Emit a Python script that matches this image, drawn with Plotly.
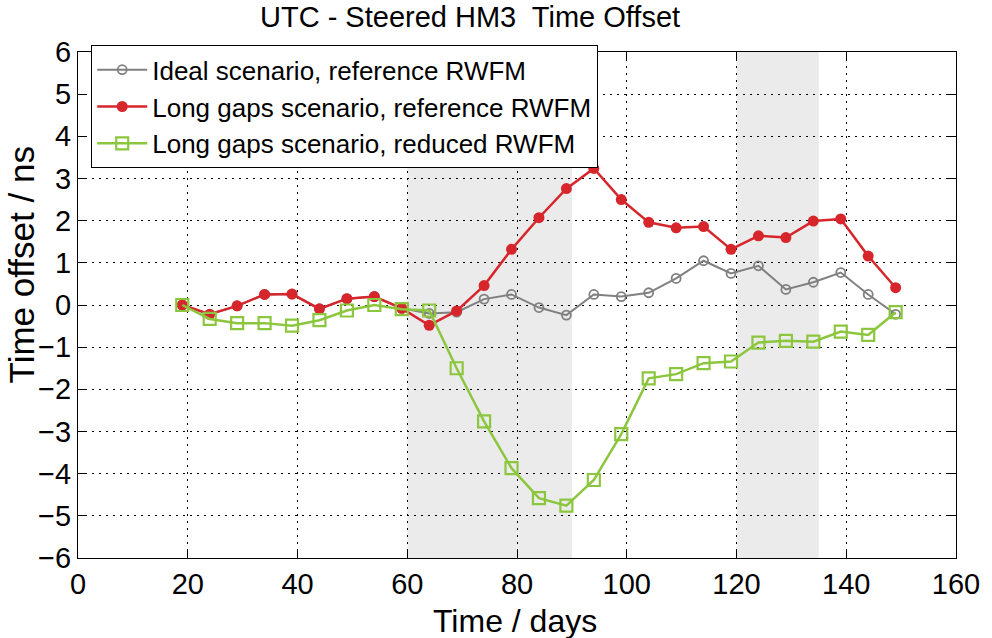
import plotly.graph_objects as go

# ---- data ----
days = [19, 24, 29, 34, 39, 44, 49, 54, 59, 64, 69, 74, 79, 84, 89, 94, 99,
        104, 109, 114, 119, 124, 129, 134, 139, 144, 149]
ideal_ref = [0.0, -0.22, -0.02, 0.25, 0.26, -0.09, 0.15, 0.2, -0.08, -0.2, -0.17,
             0.14, 0.25, -0.06, -0.24, 0.25, 0.2, 0.29, 0.63, 1.05, 0.75, 0.93,
             0.37, 0.54, 0.77, 0.25, -0.22]
gaps_ref = [0.0, -0.22, -0.02, 0.25, 0.26, -0.09, 0.15, 0.2, -0.08, -0.48, -0.14,
            0.46, 1.32, 2.07, 2.76, 3.24, 2.5, 1.96, 1.83, 1.86, 1.32, 1.64,
            1.6, 1.99, 2.04, 1.16, 0.41]
gaps_red = [0.0, -0.33, -0.43, -0.43, -0.49, -0.36, -0.13, 0.0, -0.1, -0.13, -1.5,
            -2.76, -3.87, -4.58, -4.76, -4.15, -3.06, -1.74, -1.64, -1.38, -1.34,
            -0.89, -0.85, -0.87, -0.63, -0.71, -0.17]
gap_periods = [(60, 90), (120, 135)]
x_ticks = [0, 20, 40, 60, 80, 100, 120, 140, 160]
y_ticks = [-6, -5, -4, -3, -2, -1, 0, 1, 2, 3, 4, 5, 6]

W, H = 992, 638
L, R, T, B = 78, 962, 52, 558
FONT = "Liberation Sans, Arial, sans-serif"


def px(xp):
    return (xp - L) / (R - L)


def py(yp):
    return (B - yp) / (B - T)


fig = go.Figure()
fig.add_trace(go.Scatter(
    x=days, y=ideal_ref, mode="lines+markers",
    name="Ideal scenario, reference RWFM",
    line=dict(color="#808080", width=2),
    marker=dict(symbol="circle-open", size=9, color="#808080",
                line=dict(width=1.8, color="#808080"))))
fig.add_trace(go.Scatter(
    x=days, y=gaps_ref, mode="lines+markers",
    name="Long gaps scenario, reference RWFM",
    line=dict(color="#d7262b", width=2.5),
    marker=dict(symbol="circle", size=11, color="#d7262b")))
fig.add_trace(go.Scatter(
    x=days, y=gaps_red, mode="lines+markers",
    name="Long gaps scenario, reduced RWFM",
    line=dict(color="#8cc63f", width=2.5),
    marker=dict(symbol="square-open", size=12, color="#8cc63f",
                line=dict(width=2.2, color="#8cc63f"))))

for a, b in gap_periods:
    fig.add_shape(type="rect", xref="x", yref="paper", x0=a, x1=b, y0=0, y1=1,
                  fillcolor="#ebebeb", line=dict(width=0), layer="below")

axis_common = dict(
    showline=True, linecolor="black", linewidth=1.3, mirror="ticks",
    ticks="inside", ticklen=9, tickcolor="black", tickwidth=1,
    showgrid=True, gridcolor="black", gridwidth=1, griddash="2px,5px",
    zeroline=False, tickfont=dict(family=FONT, size=29, color="black"),
)
fig.update_xaxes(range=[0, 160], tickvals=x_ticks, **axis_common)
fig.update_yaxes(range=[-6, 6], tickvals=y_ticks, **axis_common)

fig.update_layout(
    width=W, height=H,
    margin=dict(l=L, r=W - R, t=T, b=H - B),
    paper_bgcolor="white", plot_bgcolor="white",
    showlegend=True,
    legend=dict(x=px(91), y=py(45), xanchor="left", yanchor="top",
                bgcolor="white", bordercolor="black", borderwidth=1.3,
                font=dict(family=FONT, size=26, color="black"),
                itemwidth=50, tracegroupgap=0),
    annotations=[
        dict(text="UTC - Steered HM3&nbsp; Time Offset", xref="paper", yref="paper",
             x=px(473), y=py(17), xanchor="center", yanchor="middle",
             showarrow=False, font=dict(family=FONT, size=29, color="black")),
        dict(text="Time / days", xref="paper", yref="paper",
             x=px(518), y=py(621), xanchor="center", yanchor="middle",
             showarrow=False, font=dict(family=FONT, size=32, color="black")),
        dict(text="Time offset / ns", xref="paper", yref="paper", textangle=-90,
             x=px(21), y=py(265), xanchor="center", yanchor="middle",
             showarrow=False, font=dict(family=FONT, size=35, color="black")),
    ],
)

fig.write_html("out.html")
